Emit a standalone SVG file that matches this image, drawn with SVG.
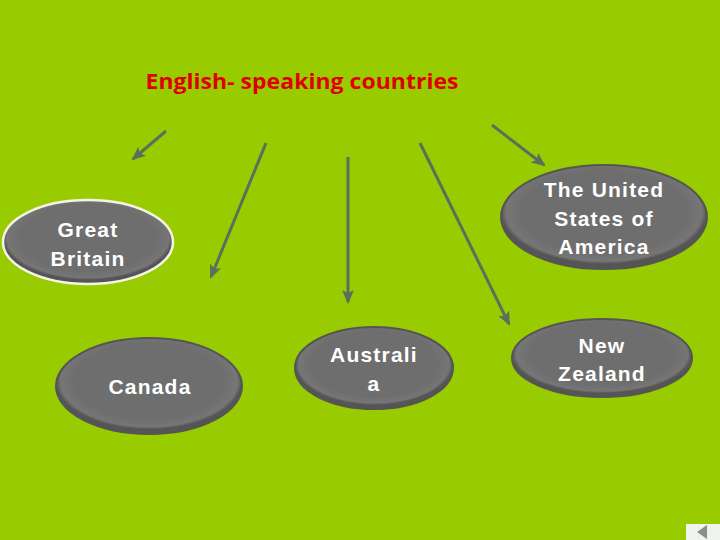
<svg xmlns="http://www.w3.org/2000/svg" width="720" height="540" viewBox="0 0 720 540">
<defs>
<radialGradient id="g" cx="50%" cy="45%" r="50%">
<stop offset="0.8" stop-color="#6e6e6e"/>
<stop offset="0.95" stop-color="#767676"/>
<stop offset="1" stop-color="#555555"/>
</radialGradient>
<marker id="ah" markerWidth="14" markerHeight="12" refX="12" refY="6" orient="auto" markerUnits="userSpaceOnUse">
<path d="M0,0 L14,6 L0,12 L3,6 z" fill="#5f6e5a"/>
</marker>
</defs>
<style>
.n{fill:url(#g);stroke:#555555;stroke-width:2}
.t{font-family:"Liberation Sans",Arial,sans-serif;font-size:21px;font-weight:bold;letter-spacing:1.2px;fill:#ffffff;text-anchor:middle;dominant-baseline:central}
.c{stroke:#5f6e5a;stroke-width:3;fill:none;marker-end:url(#ah)}
</style>
<rect width="720" height="540" fill="#99cc00"/>
<text x="302" y="89" font-family="'Open Sans',sans-serif" font-size="21" font-weight="700" fill="#e00000" text-anchor="middle" textLength="313" lengthAdjust="spacingAndGlyphs">English- speaking countries</text>
<g id="connectors">
<line class="c" x1="166" y1="131" x2="133" y2="159"/>
<line class="c" x1="266" y1="143" x2="211" y2="277"/>
<line class="c" x1="348" y1="157" x2="348" y2="302"/>
<line class="c" x1="420" y1="143" x2="509" y2="324"/>
<line class="c" x1="492" y1="125" x2="544" y2="165"/>
</g>
<g id="great-britain">
<ellipse cx="88" cy="242" rx="85" ry="42" class="n" style="stroke:#f4f4e8;stroke-width:2.5"/>
<text class="t" x="88" y="229">Great</text>
<text class="t" x="88" y="258">Britain</text>
</g>
<g id="canada">
<ellipse cx="149" cy="386" rx="93" ry="48" class="n"/>
<text class="t" x="150" y="386">Canada</text>
</g>
<g id="australia">
<ellipse cx="374" cy="368" rx="79" ry="41" class="n"/>
<text class="t" x="374" y="354">Australi</text>
<text class="t" x="374" y="383">a</text>
</g>
<g id="usa">
<ellipse cx="604" cy="217" rx="103" ry="52" class="n"/>
<text class="t" x="604" y="189">The United</text>
<text class="t" x="604" y="218">States of</text>
<text class="t" x="604" y="246">America</text>
</g>
<g id="new-zealand">
<ellipse cx="602" cy="358" rx="90" ry="39" class="n"/>
<text class="t" x="602" y="345">New</text>
<text class="t" x="602" y="373">Zealand</text>
</g>
<g id="nav">
<rect x="686" y="524" width="34" height="16" fill="#eef3ee"/>
<path d="M697,532 L707,525 L707,539 z" fill="#8a8f8a"/>
</g>
</svg>
